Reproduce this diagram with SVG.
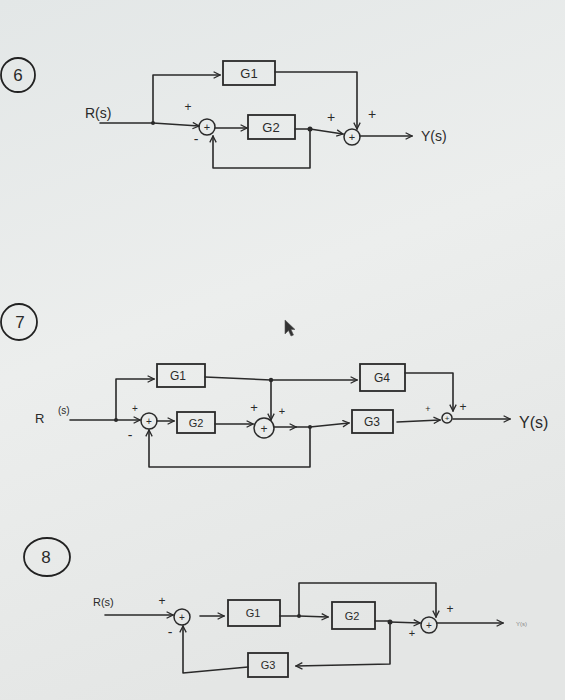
<svg xmlns="http://www.w3.org/2000/svg" width="565" height="700" viewBox="0 0 565 700">
<defs>
<linearGradient id="bg" x1="0" y1="0" x2="0.3" y2="1">
<stop offset="0" stop-color="#e3e7e7"/>
<stop offset="0.5" stop-color="#eceeed"/>
<stop offset="1" stop-color="#e4e6e5"/>
</linearGradient>
<marker id="a" viewBox="0 0 10 10" refX="9" refY="5" markerWidth="8" markerHeight="8" orient="auto" markerUnits="userSpaceOnUse">
<path d="M1,1 L9,5 L1,9" fill="none" stroke="#2a2a2a" stroke-width="1.6"/>
</marker>
<style>
.ln{fill:none;stroke:#2a2a2a;stroke-width:1.6;stroke-linejoin:round;stroke-linecap:round}
.ar{marker-end:url(#a)}
.bx{fill:none;stroke:#2a2a2a;stroke-width:1.8}
.sm{fill:none;stroke:#2a2a2a;stroke-width:1.5}
.dot{fill:#2a2a2a}
.t{font-family:"Liberation Sans","DejaVu Sans",sans-serif;fill:#2a2a2a}
.c{text-anchor:middle}
.num{fill:none;stroke:#222;stroke-width:1.8}
</style>
</defs>
<rect x="0" y="0" width="565" height="700" fill="url(#bg)"/>

<!-- Problem 6 -->
<g id="p6-label"><circle class="num" cx="18" cy="75" r="17"/><text class="t c" x="18" y="81" font-size="17">6</text></g>
<g id="p6-connectors">
<path class="ln ar" d="M100,123 L153,123 L199,126"/>
<path class="ln ar" d="M153,123 V75 H220"/>
<path class="ln ar" d="M275,72 H357 V129"/>
<path class="ln ar" d="M215,128 H247"/>
<path class="ln" d="M295,129 H310"/>
<path class="ln ar" d="M310,129 L343,134"/>
<path class="ln ar" d="M310,129 V168 H213 V136"/>
<path class="ln ar" d="M360,136 H412"/>
<circle class="dot" cx="153" cy="123" r="2"/>
<circle class="dot" cx="310" cy="129" r="2.5"/>
</g>
<g id="p6-in"><text class="t" x="85" y="118" font-size="14">R(s)</text></g>
<g id="p6-G1"><rect class="bx" x="223" y="61" width="52" height="24"/><text class="t c" x="249" y="78" font-size="13">G1</text></g>
<g id="p6-G2"><rect class="bx" x="248" y="115" width="47" height="24"/><text class="t c" x="271" y="132" font-size="13">G2</text></g>
<g id="p6-sum1"><circle class="sm" cx="207" cy="127" r="8"/><text class="t c" x="207" y="131" font-size="11">+</text>
<text class="t c" x="188" y="111" font-size="12">+</text><text class="t c" x="196" y="144" font-size="14">-</text></g>
<g id="p6-sum2"><circle class="sm" cx="352" cy="137" r="8"/><text class="t c" x="352" y="141" font-size="11">+</text>
<text class="t c" x="331" y="122" font-size="14">+</text><text class="t c" x="372" y="119" font-size="14">+</text></g>
<g id="p6-out"><text class="t" x="421" y="141" font-size="14">Y(s)</text></g>

<!-- cursor -->
<path d="M285,320 L285,334 L288.5,330.5 L291,336 L293.5,335 L291,329.5 L295,329.5 Z" fill="#333" stroke="#555" stroke-width="0.6"/>

<!-- Problem 7 -->
<g id="p7-label"><circle class="num" cx="19" cy="322" r="18"/><text class="t c" x="20" y="328" font-size="17">7</text></g>
<g id="p7-connectors">
<path class="ln ar" d="M70,420 H140"/>
<path class="ln ar" d="M116,420 V379 H154"/>
<path class="ln ar" d="M205,377 L271,380 H357"/>
<path class="ln ar" d="M271,380 V420"/>
<path class="ln ar" d="M157,421 H174"/>
<path class="ln ar" d="M215,424 H253"/>
<path class="ln ar" d="M274,427 H296"/>
<path class="ln" d="M296,427 H310"/>
<path class="ln ar" d="M310,427 L349,423"/>
<path class="ln ar" d="M397,422 L440,420"/>
<path class="ln ar" d="M405,373 H453 V411"/>
<path class="ln ar" d="M453,419 H510"/>
<path class="ln ar" d="M310,427 V467 H149 V430"/>
<circle class="dot" cx="116" cy="420" r="2"/>
<circle class="dot" cx="271" cy="380" r="2.2"/>
<circle class="dot" cx="310" cy="427" r="2"/>
</g>
<g id="p7-in"><text class="t" x="35" y="423" font-size="13">R</text><text class="t" x="58" y="414" font-size="10">(s)</text></g>
<g id="p7-G1"><rect class="bx" x="157" y="364" width="48" height="23"/><text class="t c" x="178" y="380" font-size="12">G1</text></g>
<g id="p7-G2"><rect class="bx" x="177" y="412" width="38" height="21"/><text class="t c" x="196" y="427" font-size="11">G2</text></g>
<g id="p7-G3"><rect class="bx" x="352" y="410" width="41" height="23"/><text class="t c" x="372" y="426" font-size="12">G3</text></g>
<g id="p7-G4"><rect class="bx" x="360" y="364" width="45" height="27"/><text class="t c" x="382" y="382" font-size="12">G4</text></g>
<g id="p7-sum1"><circle class="sm" cx="149" cy="421" r="8"/><text class="t c" x="149" y="425" font-size="10">+</text>
<text class="t c" x="135" y="412" font-size="10">+</text><text class="t c" x="130" y="440" font-size="14">-</text></g>
<g id="p7-sum2"><circle class="sm" cx="264" cy="428" r="10"/><text class="t c" x="264" y="433" font-size="12">+</text>
<text class="t c" x="254" y="412" font-size="13">+</text><text class="t c" x="282" y="415" font-size="11">+</text></g>
<g id="p7-sum3"><circle class="sm" cx="447" cy="418" r="5"/><text class="t c" x="447" y="421" font-size="8">+</text>
<text class="t c" x="428" y="412" font-size="9">+</text><text class="t c" x="463" y="411" font-size="12">+</text></g>
<g id="p7-out"><text class="t" x="519" y="428" font-size="16">Y(s)</text></g>

<!-- Problem 8 -->
<g id="p8-label"><ellipse class="num" cx="47" cy="557" rx="23" ry="19"/><text class="t c" x="46" y="563" font-size="17">8</text></g>
<g id="p8-connectors">
<path class="ln ar" d="M105,615 H173"/>
<path class="ln ar" d="M200,616 H224"/>
<path class="ln ar" d="M280,616 H299 L328,617"/>
<path class="ln ar" d="M299,616 V583 H436 V617"/>
<path class="ln" d="M375,621 H390"/>
<path class="ln ar" d="M390,622 L420,623"/>
<path class="ln ar" d="M437,623 H503"/>
<path class="ln ar" d="M390,622 V664 L296,666"/>
<path class="ln ar" d="M248,667 L183,673 V626"/>
<circle class="dot" cx="299" cy="616" r="2"/>
<circle class="dot" cx="390" cy="622" r="2.5"/>
</g>
<g id="p8-in"><text class="t" x="93" y="606" font-size="11">R(s)</text></g>
<g id="p8-G1"><rect class="bx" x="228" y="600" width="52" height="26"/><text class="t c" x="253" y="617" font-size="11">G1</text></g>
<g id="p8-G2"><rect class="bx" x="332" y="602" width="43" height="27"/><text class="t c" x="352" y="620" font-size="11">G2</text></g>
<g id="p8-G3"><rect class="bx" x="248" y="653" width="40" height="24"/><text class="t c" x="268" y="669" font-size="11">G3</text></g>
<g id="p8-sum1"><circle class="sm" cx="182" cy="617" r="8"/><text class="t c" x="182" y="621" font-size="10">+</text>
<text class="t c" x="162" y="605" font-size="12">+</text><text class="t c" x="170" y="637" font-size="14">-</text></g>
<g id="p8-sum2"><circle class="sm" cx="429" cy="625" r="8"/><text class="t c" x="429" y="629" font-size="10">+</text>
<text class="t c" x="450" y="613" font-size="12">+</text><text class="t c" x="412" y="637" font-size="11">+</text></g>
<g id="p8-out"><text class="t" x="516" y="626" font-size="6" style="fill:#888">Y(s)</text></g>
</svg>
